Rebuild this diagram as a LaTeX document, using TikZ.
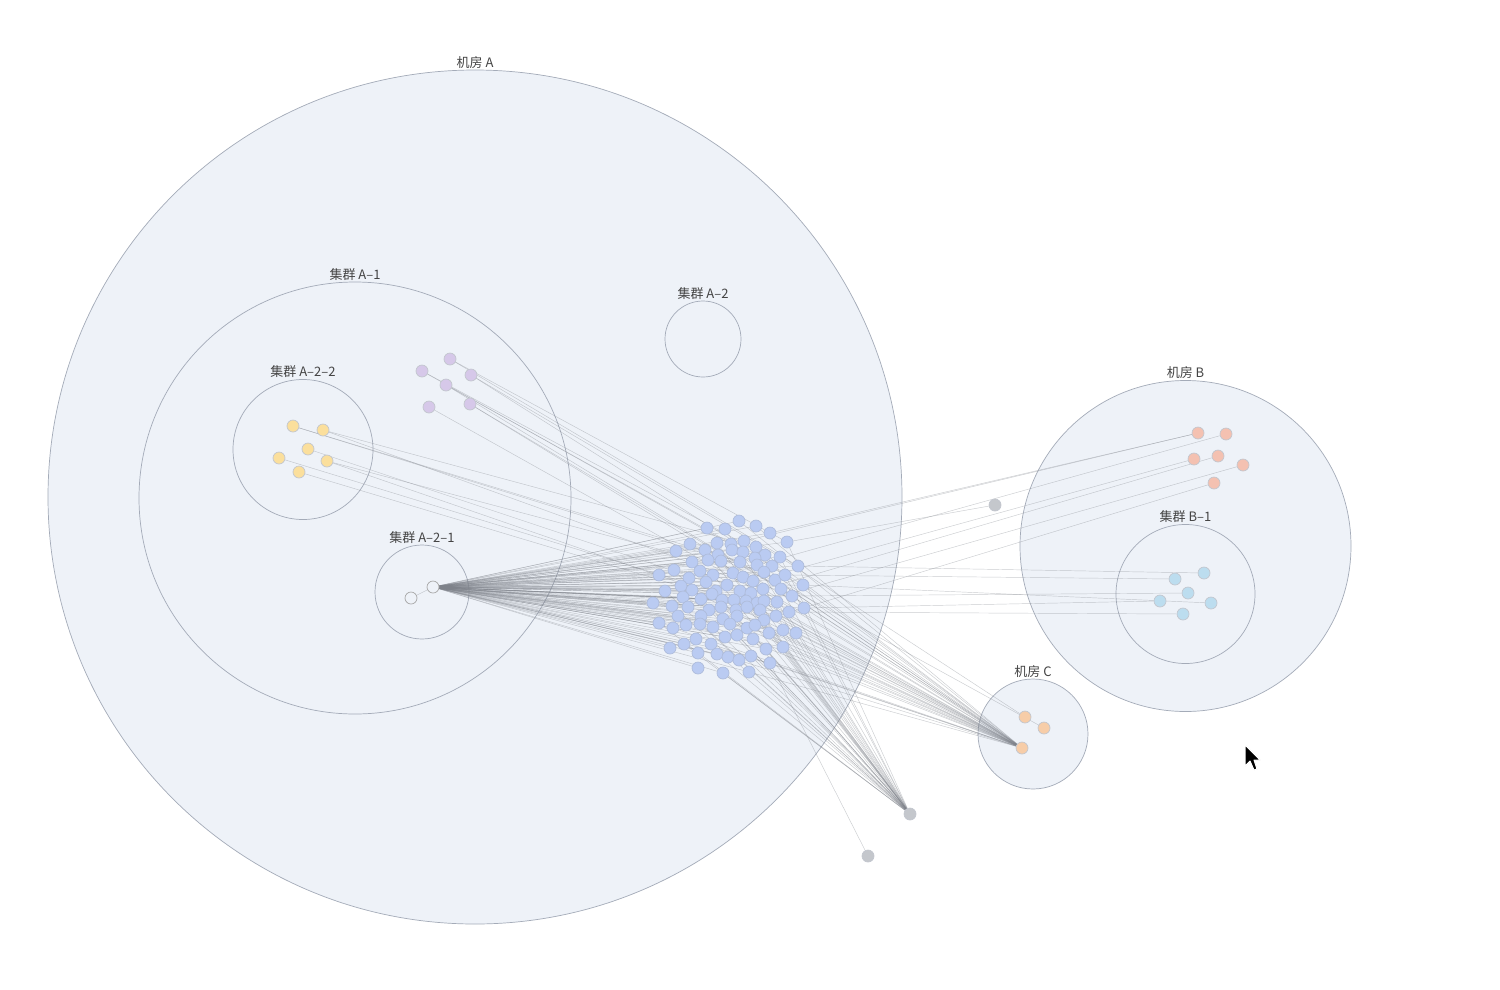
\documentclass[tikz,border=0pt]{standalone}
\usepackage{fontspec}
\setmainfont{Noto Sans CJK SC}
\usepackage{tikz}
\usepackage{xcolor}

\definecolor{roomfill}{HTML}{EEF2F8}
\definecolor{roomline}{HTML}{A4ABB8}
\definecolor{tagtext}{HTML}{444444}
\definecolor{linkgray}{HTML}{7E828A}
\definecolor{dotline}{HTML}{C2C6CE}
\definecolor{dotblue}{HTML}{BACBF2}
\definecolor{dotpurple}{HTML}{D6C8E9}
\definecolor{dotyellow}{HTML}{FBDF9C}
\definecolor{dotsalmon}{HTML}{F4C1B1}
\definecolor{dotsky}{HTML}{BCDDEF}
\definecolor{dotorange}{HTML}{F7CDA8}
\definecolor{dotgray}{HTML}{C4C7CC}

\pgfdeclarelayer{rooms}
\pgfdeclarelayer{links}
\pgfsetlayers{rooms,links,main}

\begin{document}
\begin{tikzpicture}[x=1pt, y=-1pt,
    room/.style={circle, draw=roomline, fill=roomfill, line width=0.7pt, inner sep=0pt},
    tag/.style={text=tagtext, font=\fontsize{13}{15}\selectfont, inner sep=1pt},
    dot/.style={circle, draw=dotline, line width=0.7pt, minimum size=12pt, inner sep=0pt},
    link/.style={draw=linkgray, line width=0.45pt, opacity=0.4}]

            % data nodes
            \foreach \x/\y [count=\i] in {739/521, 707/528, 725/529, 756/526, 770/533,
                787/542, 690/544, 676/551, 717/543, 731/544, 744/541, 705/550, 756/547,
                765/555, 780/557, 732/550, 743/552, 718/555, 692/562, 708/560, 721/561,
                740/562, 755/558, 757/565, 772/566, 798/566, 674/570, 700/571, 689/578,
                713/575, 733/573, 743/577, 753/581, 764/572, 775/580, 785/575, 803/585,
                659/575, 665/591, 681/586, 692/590, 706/582, 716/591, 727/585, 740/591,
                751/593, 763/589, 781/589, 792/596, 653/603, 672/606, 683/597, 701/599,
                712/594, 722/600, 734/600, 746/601, 757/603, 764/601, 777/602, 804/608,
                688/607, 709/610, 721/607, 736/610, 747/607, 760/610, 678/616, 701/616,
                723/619, 737/616, 764/620, 776/616, 789/612, 659/623, 673/628, 686/625,
                700/624, 713/627, 730/624, 747/628, 755/625, 769/633, 783/630, 796/633,
                725/637, 737/635, 753/639, 696/639, 684/644, 711/644, 670/648, 766/649,
                783/647, 698/653, 717/654, 728/657, 739/660, 751/656, 770/663, 698/668,
                723/673, 749/672}
                \node[dot, fill=dotblue, draw=dotblue!80!gray] (c\i) at (\x,\y) {};
            \foreach \x/\y [count=\i] in {422/371, 450/359, 471/375, 446/385, 470/404, 429/407}
                \node[dot, fill=dotpurple] (p\i) at (\x,\y) {};
            \foreach \x/\y [count=\i] in {293/426, 323/430, 308/449, 279/458, 327/461, 299/472}
                \node[dot, fill=dotyellow] (y\i) at (\x,\y) {};
            \foreach \x/\y [count=\i] in {1198/433, 1226/434, 1194/459, 1218/456, 1243/465, 1214/483}
                \node[dot, fill=dotsalmon] (s\i) at (\x,\y) {};
            \foreach \x/\y [count=\i] in {1204/573, 1175/579, 1188/593, 1160/601, 1211/603, 1183/614}
                \node[dot, fill=dotsky] (b\i) at (\x,\y) {};
            \foreach \x/\y [count=\i] in {1025/717, 1044/728, 1022/748}
                \node[dot, fill=dotorange] (o\i) at (\x,\y) {};
            \foreach \x/\y [count=\i] in {995/505, 910/814, 868/856}
                \node[dot, fill=dotgray] (g\i) at (\x,\y) {};
            \node[dot, fill=roomfill, draw=gray!70] (w1) at (433,587) {};
            \node[dot, fill=roomfill, draw=gray!70] (w2) at (411,598) {};

            % rooms and clusters
            \begin{pgfonlayer}{rooms}
            \fill[white] (0,0) rectangle (1500,989);
            \useasboundingbox (0,0) rectangle (1500,989);
            \node[room, minimum size=854pt, label={[tag]above:机房 A}] (roomA) at (475,497) {};
            \node[room, minimum size=432pt, label={[tag]above:集群 A–1}] (grpA1) at (355,498) {};
            \node[room, minimum size=76pt, label={[tag]above:集群 A–2}] (grpA2) at (703,339) {};
            \node[room, minimum size=140pt, label={[tag]above:集群 A–2–2}] (grpA22) at (303,449.5) {};
            \node[room, minimum size=94pt, label={[tag]above:集群 A–2–1}] (grpA21) at (422,592) {};
            \node[room, minimum size=331pt, label={[tag]above:机房 B}] (roomB) at (1185.5,546) {};
            \node[room, minimum size=139pt, label={[tag]above:集群 B–1}] (grpB1) at (1185.5,594) {};
            \node[room, minimum size=110pt, label={[tag]above:机房 C}] (roomC) at (1033,734) {};
            \end{pgfonlayer}

            % links
            \begin{pgfonlayer}{links}
            \foreach \i in {1,...,103}
                \draw[link] (w1) -- (c\i);
            \foreach \i in {3,6,...,102}
                \draw[link] (c\i) -- (g2);
            \foreach \i in {1,4,...,103}
                \draw[link] (c\i) -- (o3);
            \foreach \u/\v in {p1/c14, p1/c36, p2/c6, p2/c26, p3/c15, p3/c37, p4/c48,
                p4/c25, p5/c61, p5/c49, p6/c60, y1/c22, y1/c34, y2/c13, y2/c47, y3/c59,
                y4/c57, y5/c35, y5/c73, y6/c67, s1/c11, s1/c5, s2/c24, s3/c33, s4/c46,
                s5/c58, s6/c72, b1/c26, b2/c36, b3/c49, b4/c61, b5/c37, b6/c74,
                o1/c15, o2/c35, g1/c6, g3/c100, w2/w1}
                \draw[link] (\u) -- (\v);
            \end{pgfonlayer}

            % pointer
            \draw[fill=black, draw=white, line width=1pt, line join=round]
                (1245,745) -- ++(0,21) -- ++(5,-5) -- ++(4,9) -- ++(3,-1)
                -- ++(-3,-9) -- ++(6,0) -- cycle;
\end{tikzpicture}
\end{document}
